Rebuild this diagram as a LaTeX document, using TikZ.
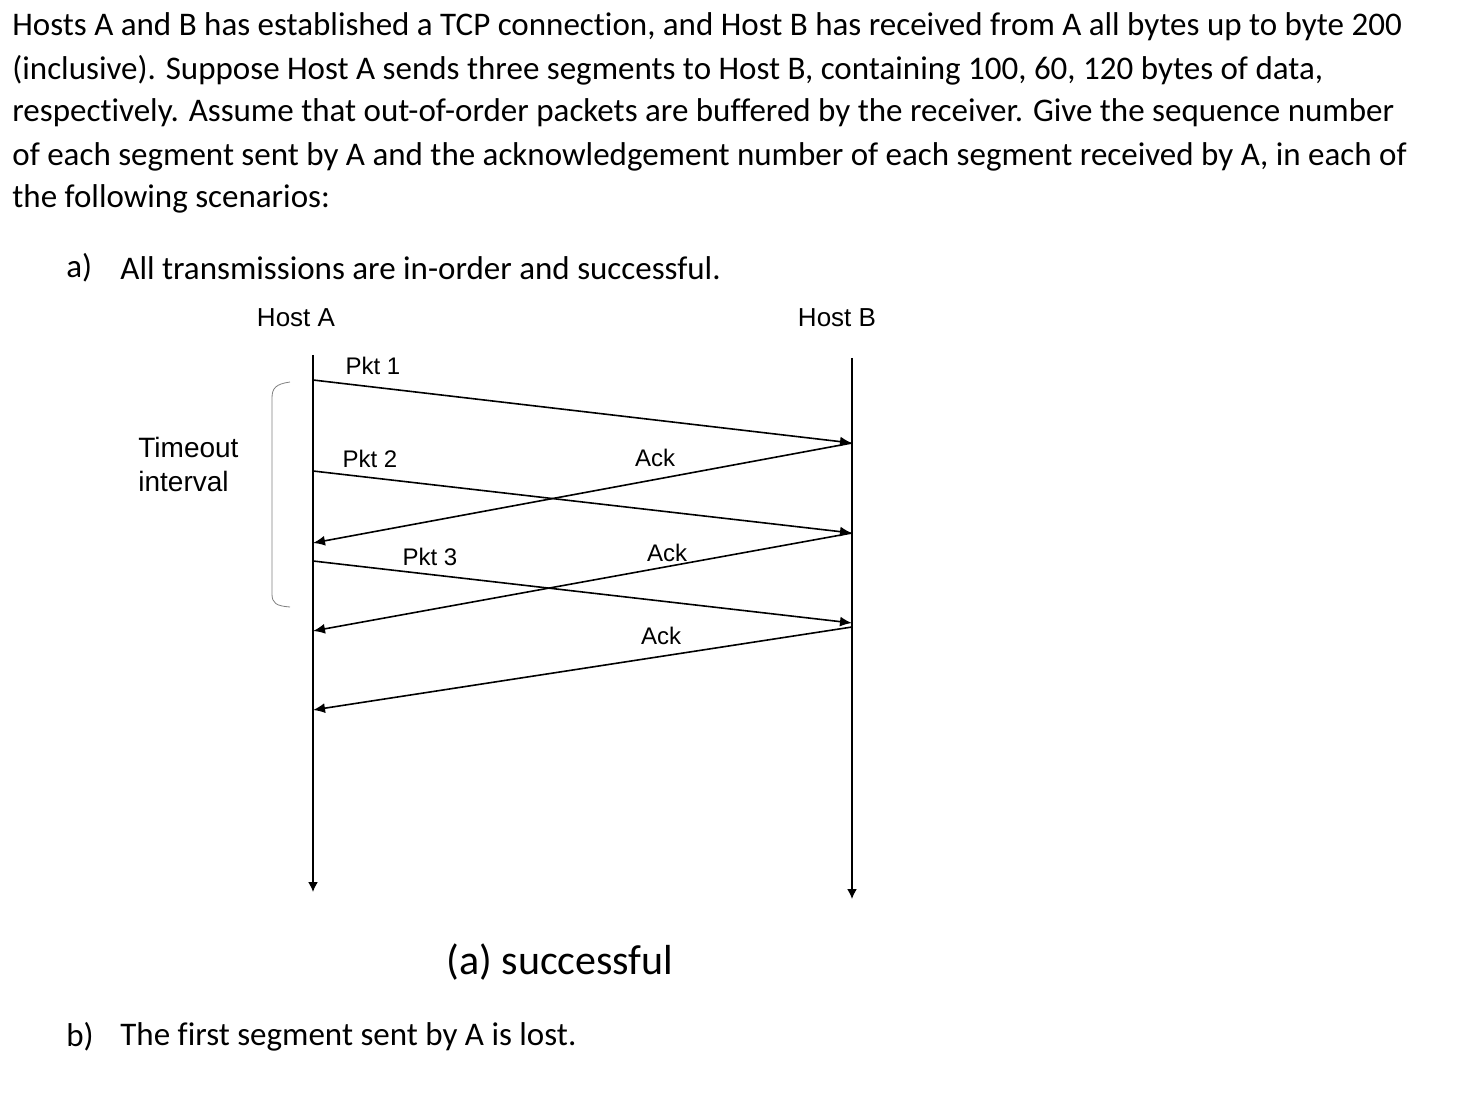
\documentclass[tikz,border=0pt]{standalone}
\usepackage{fontspec}
\setmainfont[RawFeature={-liga}]{Carlito}
\newfontfamily\arial{Liberation Sans}
\usetikzlibrary{arrows.meta}
\begin{document}
\begin{tikzpicture}[x=0.5pt,y=-0.5pt,
 txt/.style={anchor=west,inner sep=0,font=\fontsize{16.5}{18}\selectfont},
 lbl/.style={inner sep=0,font=\arial\fontsize{12}{14}\selectfont},
 msg/.style={-{Latex[length=6pt,width=5pt]},thick},
 life/.style={-{Latex[length=5pt,width=5pt]},thick}]
\useasboundingbox (0,0) rectangle (1472,1106);
\node[txt] (l1) at (12,27) {Hosts A and B has established a TCP connection, and Host B has received from A all bytes up to byte 200};
\node[txt] (l2) at (12,70) {(inclusive). Suppose Host A sends three segments to Host B, containing 100, 60, 120 bytes of data,};
\node[txt] (l3) at (12,113) {respectively. Assume that out-of-order packets are buffered by the receiver. Give the sequence number};
\node[txt] (l4) at (12,157) {of each segment sent by A and the acknowledgement number of each segment received by A, in each of};
\node[txt] (l5) at (12,199) {the following scenarios:};
\node[txt] (qa) at (66,268) {a)};
\node[txt] (qat) at (120,268) {All transmissions are in-order and successful.};
\node[lbl,font=\arial\fontsize{13}{15}\selectfont] (ha) at (296,318) {Host A};
\node[lbl,font=\arial\fontsize{13}{15}\selectfont] (hb) at (837,318) {Host B};
\coordinate (at) at (313,355); \coordinate (ab) at (313,892);
\coordinate (bt) at (852,358); \coordinate (bb) at (852,899);
\draw[life] (at) -- (ab);
\draw[life] (bt) -- (bb);
\coordinate (a1) at (313,380); \coordinate (b1) at (852,443);
\coordinate (a2) at (313,543); \coordinate (a3) at (313,471);
\coordinate (b2) at (852,533); \coordinate (a4) at (313,631);
\coordinate (a5) at (313,561); \coordinate (b3) at (852,623);
\coordinate (b4) at (852,627); \coordinate (a6) at (313,710);
\draw[msg] (a1) -- (b1);
\draw[msg] (b1) -- (a2);
\draw[msg] (a3) -- (b2);
\draw[msg] (b2) -- (a4);
\draw[msg] (a5) -- (b3);
\draw[msg] (b4) -- (a6);
\node[lbl] (p1) at (373,366) {Pkt 1};
\node[lbl] (p2) at (370,459) {Pkt 2};
\node[lbl] (p3) at (430,557) {Pkt 3};
\node[lbl] (k1) at (655,458) {Ack};
\node[lbl] (k2) at (667,553) {Ack};
\node[lbl] (k3) at (661,636) {Ack};
\node[lbl,anchor=west,align=left,font=\arial\fontsize{14}{17}\selectfont] (to) at (138,464) {Timeout\\interval};
\draw[gray] (290,382) .. controls (276,384) and (272,388) .. (272,398) -- (272,594) .. controls (272,603) and (276,606) .. (290,607);
\node[inner sep=0,font=\fontsize{21}{23}\selectfont] (cap) at (560,962) {(a) successful};
\node[txt] (qb) at (66,1037) {b)};
\node[txt] (qbt) at (120,1037) {The first segment sent by A is lost.};
\end{tikzpicture}
\end{document}
